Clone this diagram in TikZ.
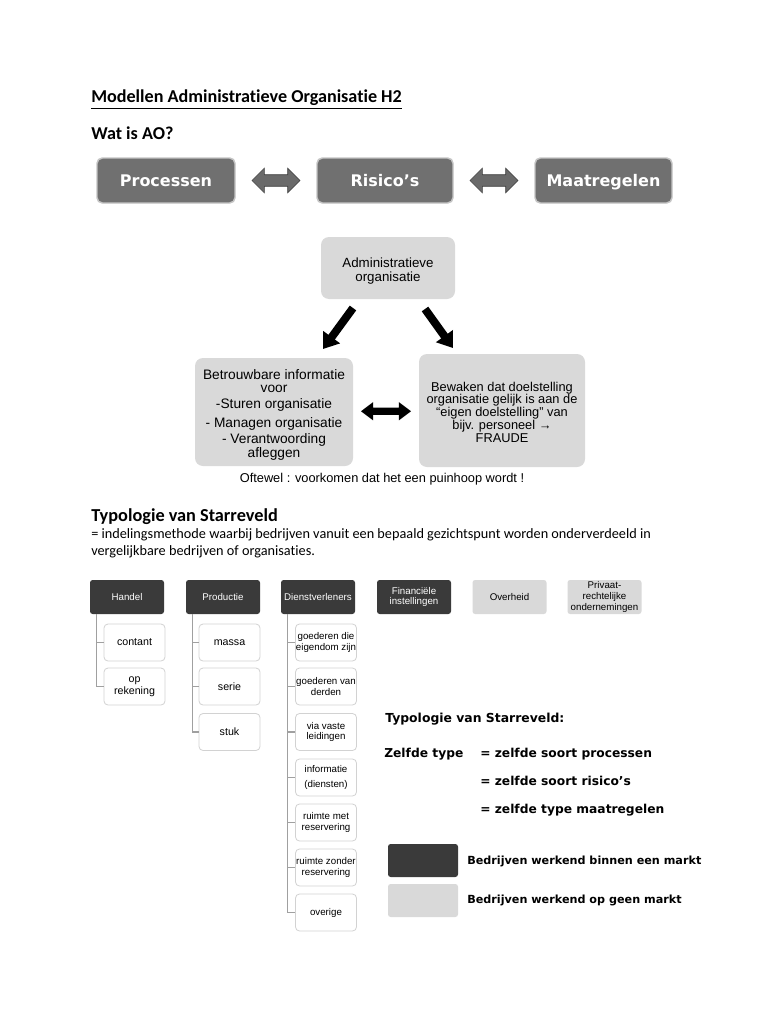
\documentclass[tikz,border=0pt]{standalone}
\usepackage{fontspec}
\setmainfont{Carlito}[Ligatures=NoCommon]
\newfontfamily\arialf{Liberation Sans}
\newfontfamily\verdf{DejaVu Sans}
\usetikzlibrary{shapes.arrows,arrows.meta,calc}
\newlength\pxu \setlength\pxu{0.75pt}
\definecolor{topgray}{HTML}{707070}
\definecolor{topborder}{HTML}{C4C4C4}
\definecolor{arrgray}{HTML}{6A6A6A}
\definecolor{arrdark}{HTML}{404040}
\definecolor{lgray}{HTML}{D9D9D9}
\definecolor{dgray}{HTML}{3A3A3A}
\definecolor{cborder}{HTML}{D2D2D2}
\definecolor{treegray}{HTML}{A0A0A0}
\begin{document}
\begin{tikzpicture}[x=0.75pt,y=-0.75pt,
  txt/.style={inner sep=0, anchor=base west},
  topbox/.style={rounded corners=4pt, fill=topgray, draw=topborder, line width=1.1pt, text=white,
    font=\verdf\bfseries\fontsize{12}{14}\selectfont, minimum height=45*\pxu, inner sep=0,
    text height=8.8pt, text depth=0pt},
  dblgray/.style={double arrow, fill=arrgray, draw=arrdark, line width=0.5pt, inner sep=4.1pt,
    double arrow head extend=4.9pt, minimum height=36pt},
  lightbox/.style={rounded corners=6pt, fill=lgray, inner sep=0},
  boxtext/.style={inner sep=0, align=center},
  bigarrow/.style={line width=6pt, -{Triangle[width=15pt,length=11pt]}},
  catdark/.style={rounded corners=2pt, fill=dgray, text=white, minimum width=74*\pxu, minimum height=34*\pxu,
    font=\arialf\fontsize{7.3}{8}\selectfont, align=center, inner sep=0},
  catlight/.style={catdark, fill=lgray, text=black},
  child/.style={rounded corners=3pt, draw=cborder, fill=white, line width=0.6pt, minimum width=61*\pxu,
    minimum height=37*\pxu, font=\arialf\fontsize{7.3}{7.6}\selectfont, align=center, inner sep=0},
  childbig/.style={child, font=\arialf\fontsize{8}{9}\selectfont},
  tree/.style={draw=treegray, line width=0.9pt},
  rtext/.style={txt, font=\verdf\bfseries\fontsize{9.2}{11}\selectfont},
  ltext/.style={txt, font=\verdf\bfseries\fontsize{8.4}{10}\selectfont}
]
\fill[white] (0,0) rectangle (768,1024);
\useasboundingbox (0,0) rectangle (768,1024);

% headings
\node[txt, font=\bfseries\fontsize{13.6}{16}\selectfont] (title) at (91,103) {\underline{Modellen Administratieve Organisatie H2}};
\node[txt, font=\bfseries\fontsize{13.6}{16}\selectfont] (wat) at (91,139) {Wat is AO?};

% top row
\node[topbox, minimum width=138*\pxu] (proc) at (166,180.5) {Processen};
\node[topbox, minimum width=136*\pxu] (ris) at (385,180.5) {Risico’s};
\node[topbox, minimum width=137*\pxu] (maat) at (603.5,180.5) {Maatregelen};
\node[dblgray] (a1) at ($(proc.east)!.5!(ris.west)$) {};
\node[dblgray] (a2) at ($(ris.east)!.5!(maat.west)$) {};

% AO triangle
\node[lightbox, minimum width=134*\pxu, minimum height=62*\pxu] (ao) at (388,268) {};
\node[boxtext, font=\arialf\fontsize{10}{10.5}\selectfont] (aot) at ([yshift=-2.3pt]ao.center) {Administratieve\\organisatie};
\node[lightbox, minimum width=158*\pxu, minimum height=108*\pxu] (bi) at (274,412) {};
\node[boxtext, font=\arialf\fontsize{10.3}{12}\selectfont] (bit) at ([yshift=-2.3pt]bi.center)
  {Betrouwbare informatie\\[-2.2pt]voor\\-Sturen organisatie\\[2.2pt]- Managen organisatie\\- Verantwoording\\[-1.5pt]afleggen};
\node[lightbox, minimum width=166*\pxu, minimum height=113*\pxu] (bew) at (502,410.5) {};
\node[boxtext, font=\arialf\fontsize{9.6}{9.6}\selectfont] (bewt) at ([yshift=-1.2pt]bew.center)
  {Bewaken dat doelstelling\\organisatie gelijk is aan de\\“eigen doelstelling” van\\bijv. personeel →\\FRAUDE};
\node[double arrow, fill=black, inner sep=2.6pt, double arrow head extend=4.1pt, minimum height=37.5pt,
  double arrow tip angle=74] (a3) at ($(bi.east)!.5!(bew.west)$) {};
\coordinate (t1) at (353,308);
\coordinate (h1) at (323,349);
\coordinate (t2) at (425,309);
\coordinate (h2) at (453,348);
\draw[bigarrow] (t1) -- (h1);
\draw[bigarrow] (t2) -- (h2);
\node[inner sep=0, font=\arialf\fontsize{9.6}{11}\selectfont] (oft) at (382,479.5) {Oftewel : voorkomen dat het een puinhoop wordt !};

% Starreveld text
\node[txt, font=\bfseries\fontsize{13.7}{16}\selectfont] (typ) at (91,521) {Typologie van Starreveld};
\node[txt, font=\fontsize{10.7}{12}\selectfont] (def1) at (91,538) {= indelingsmethode waarbij bedrijven vanuit een bepaald gezichtspunt worden onderverdeeld in};
\node[txt, font=\fontsize{10.7}{12}\selectfont] (def2) at (91,555) {vergelijkbare bedrijven of organisaties.};

% categories
\node[catdark] (handel) at (127,597) {Handel};
\node[catdark] (prod) at (223,597) {Productie};
\node[catdark] (dienst) at (318,597) {Dienstverleners};
\node[catdark] (fin) at (414,597) {Financiële\\instellingen};
\node[catlight] (over) at (509.5,597) {Overheid};
\node[catlight] (priv) at (604.5,597) {Privaat-\\rechtelijke\\ondernemingen};

% children
\node[childbig] (h1c) at (134.5,642.5) {contant};
\node[childbig] (h2c) at (134.5,686.5) {op\\rekening};
\node[childbig] (p1c) at (229.5,642.5) {massa};
\node[childbig] (p2c) at (229.5,686.5) {serie};
\node[childbig] (p3c) at (229.5,732) {stuk};
\node[child] (d1c) at (326,642.5) {goederen die\\eigendom zijn};
\node[child] (d2c) at (326,686.5) {goederen van\\derden};
\node[child] (d3c) at (326,732) {via vaste\\leidingen};
\node[child, font=\arialf\fontsize{7.3}{11}\selectfont] (d4c) at (326,777.5) {informatie\\(diensten)};
\node[child] (d5c) at (326,822.5) {ruimte met\\reservering};
\node[child] (d6c) at (326,867.5) {ruimte zonder\\reservering};
\node[child] (d7c) at (326,912.5) {overige};

\foreach \c in {h1c,h2c} \draw[tree] ([xshift=5.25pt]handel.south west) |- (\c.west);
\foreach \c in {p1c,p2c,p3c} \draw[tree] ([xshift=5.25pt]prod.south west) |- (\c.west);
\foreach \c in {d1c,d2c,d3c,d4c,d5c,d6c,d7c} \draw[tree] ([xshift=5.25pt]dienst.south west) |- (\c.west);

% right text
\node[txt, font=\verdf\bfseries\fontsize{9.3}{11}\selectfont] (typ2) at (385,722) {Typologie van Starreveld:};
\node[rtext] (zt) at (384,757) {Zelfde type};
\node[rtext] (z1) at (480,757) {= zelfde soort processen};
\node[rtext] (z2) at (480,785) {= zelfde soort risico’s};
\node[rtext] (z3) at (480,813) {= zelfde type maatregelen};

% legend
\node[rounded corners=2pt, fill=dgray, minimum width=70*\pxu, minimum height=33*\pxu, inner sep=0] (lg1) at (423,860.5) {};
\node[rounded corners=2pt, fill=lgray, minimum width=70*\pxu, minimum height=33*\pxu, inner sep=0] (lg2) at (423,900.5) {};
\node[ltext] (lt1) at (467,864) {Bedrijven werkend binnen een markt};
\node[ltext] (lt2) at (467,903) {Bedrijven werkend op geen markt};
\end{tikzpicture}
\end{document}
